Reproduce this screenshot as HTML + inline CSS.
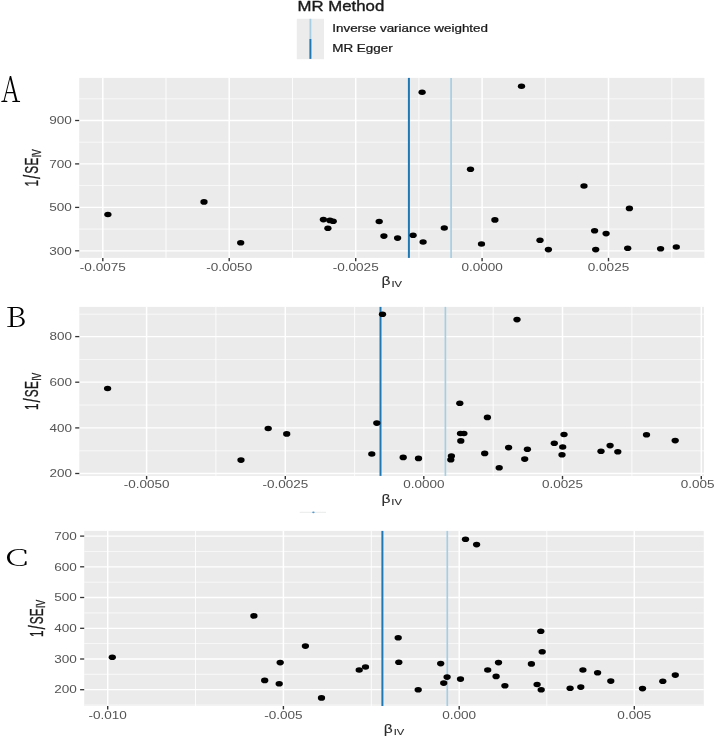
<!DOCTYPE html>
<html lang="en"><head><meta charset="utf-8"><title>MR funnel plots</title>
<style>html,body{margin:0;padding:0;background:#fff}body{width:714px;height:736px;overflow:hidden}svg{display:block}</style></head>
<body>
<svg width="714" height="736" viewBox="0 0 714 736" font-family="'Liberation Sans', Arial, sans-serif">
<rect width="714" height="736" fill="#fff"/>
<text transform="translate(297.60,10.60) scale(1.22,1)" font-size="13.75" text-anchor="start" fill="#1a1a1a" stroke="#1a1a1a" stroke-width="0.35">MR Method</text>
<rect x="296.8" y="18.8" width="27.2" height="40.4" fill="#ececec"/>
<line x1="310.4" x2="310.4" y1="18.8" y2="39" stroke="#a6cee3" stroke-width="1.8"/>
<line x1="310.4" x2="310.4" y1="39" y2="58.9" stroke="#1f78b4" stroke-width="2"/>
<text transform="translate(332.30,32.40) scale(1.22,1)" font-size="11" text-anchor="start" fill="#1a1a1a" stroke="#1a1a1a" stroke-width="0.25">Inverse variance weighted</text>
<text transform="translate(332.30,52.20) scale(1.22,1)" font-size="11" text-anchor="start" fill="#1a1a1a" stroke="#1a1a1a" stroke-width="0.25">MR Egger</text>
<rect x="79.2" y="77.9" width="625.20" height="180.00" fill="#ebebeb"/>
<line x1="166.0" x2="166.0" y1="77.9" y2="257.9" stroke="#fff" stroke-width="0.95" opacity="0.9"/>
<line x1="292.5" x2="292.5" y1="77.9" y2="257.9" stroke="#fff" stroke-width="0.95" opacity="0.9"/>
<line x1="418.9" x2="418.9" y1="77.9" y2="257.9" stroke="#fff" stroke-width="0.95" opacity="0.9"/>
<line x1="545.3" x2="545.3" y1="77.9" y2="257.9" stroke="#fff" stroke-width="0.95" opacity="0.9"/>
<line x1="671.8" x2="671.8" y1="77.9" y2="257.9" stroke="#fff" stroke-width="0.95" opacity="0.9"/>
<line x1="79.2" x2="704.4" y1="98.8" y2="98.8" stroke="#fff" stroke-width="0.75" opacity="0.9"/>
<line x1="79.2" x2="704.4" y1="142.2" y2="142.2" stroke="#fff" stroke-width="0.75" opacity="0.9"/>
<line x1="79.2" x2="704.4" y1="185.6" y2="185.6" stroke="#fff" stroke-width="0.75" opacity="0.9"/>
<line x1="79.2" x2="704.4" y1="229.1" y2="229.1" stroke="#fff" stroke-width="0.75" opacity="0.9"/>
<line x1="102.8" x2="102.8" y1="77.9" y2="257.9" stroke="#fff" stroke-width="1.5"/>
<line x1="229.2" x2="229.2" y1="77.9" y2="257.9" stroke="#fff" stroke-width="1.5"/>
<line x1="355.7" x2="355.7" y1="77.9" y2="257.9" stroke="#fff" stroke-width="1.5"/>
<line x1="482.1" x2="482.1" y1="77.9" y2="257.9" stroke="#fff" stroke-width="1.5"/>
<line x1="608.5" x2="608.5" y1="77.9" y2="257.9" stroke="#fff" stroke-width="1.5"/>
<line x1="79.2" x2="704.4" y1="120.5" y2="120.5" stroke="#fff" stroke-width="1.3"/>
<line x1="79.2" x2="704.4" y1="163.9" y2="163.9" stroke="#fff" stroke-width="1.3"/>
<line x1="79.2" x2="704.4" y1="207.4" y2="207.4" stroke="#fff" stroke-width="1.3"/>
<line x1="79.2" x2="704.4" y1="250.8" y2="250.8" stroke="#fff" stroke-width="1.3"/>
<line x1="451.1" x2="451.1" y1="77.9" y2="257.9" stroke="#a6cee3" stroke-width="1.7"/>
<line x1="408.9" x2="408.9" y1="77.9" y2="257.9" stroke="#1f78b4" stroke-width="2"/>
<ellipse cx="107.9" cy="214.5" rx="3.65" ry="2.8" fill="#000"/>
<ellipse cx="204" cy="201.9" rx="3.65" ry="2.8" fill="#000"/>
<ellipse cx="240.7" cy="242.8" rx="3.65" ry="2.8" fill="#000"/>
<ellipse cx="323.4" cy="219.6" rx="3.65" ry="2.8" fill="#000"/>
<ellipse cx="329.9" cy="220.4" rx="3.65" ry="2.8" fill="#000"/>
<ellipse cx="333.2" cy="221.3" rx="3.65" ry="2.8" fill="#000"/>
<ellipse cx="327.9" cy="228.3" rx="3.65" ry="2.8" fill="#000"/>
<ellipse cx="379.2" cy="221.5" rx="3.65" ry="2.8" fill="#000"/>
<ellipse cx="383.9" cy="236.1" rx="3.65" ry="2.8" fill="#000"/>
<ellipse cx="397.6" cy="238.1" rx="3.65" ry="2.8" fill="#000"/>
<ellipse cx="413.1" cy="235.3" rx="3.65" ry="2.8" fill="#000"/>
<ellipse cx="423.1" cy="242" rx="3.65" ry="2.8" fill="#000"/>
<ellipse cx="422.1" cy="92.2" rx="3.65" ry="2.8" fill="#000"/>
<ellipse cx="444.3" cy="228" rx="3.65" ry="2.8" fill="#000"/>
<ellipse cx="470.5" cy="169.2" rx="3.65" ry="2.8" fill="#000"/>
<ellipse cx="481.5" cy="244" rx="3.65" ry="2.8" fill="#000"/>
<ellipse cx="494.9" cy="219.9" rx="3.65" ry="2.8" fill="#000"/>
<ellipse cx="521.5" cy="86.2" rx="3.65" ry="2.8" fill="#000"/>
<ellipse cx="540" cy="240.3" rx="3.65" ry="2.8" fill="#000"/>
<ellipse cx="548.4" cy="249.6" rx="3.65" ry="2.8" fill="#000"/>
<ellipse cx="584" cy="186" rx="3.65" ry="2.8" fill="#000"/>
<ellipse cx="594.6" cy="230.8" rx="3.65" ry="2.8" fill="#000"/>
<ellipse cx="606.1" cy="233.6" rx="3.65" ry="2.8" fill="#000"/>
<ellipse cx="595.7" cy="249.6" rx="3.65" ry="2.8" fill="#000"/>
<ellipse cx="629.4" cy="208.4" rx="3.65" ry="2.8" fill="#000"/>
<ellipse cx="627.7" cy="248.2" rx="3.65" ry="2.8" fill="#000"/>
<ellipse cx="660.6" cy="248.8" rx="3.65" ry="2.8" fill="#000"/>
<ellipse cx="676.3" cy="247" rx="3.65" ry="2.8" fill="#000"/>
<line x1="102.8" x2="102.8" y1="257.9" y2="261.30" stroke="#333" stroke-width="1.4"/>
<text transform="translate(102.80,270.90) scale(1.19,1)" font-size="11.4" text-anchor="middle" fill="#555">-0.0075</text>
<line x1="229.2" x2="229.2" y1="257.9" y2="261.30" stroke="#333" stroke-width="1.4"/>
<text transform="translate(229.20,270.90) scale(1.19,1)" font-size="11.4" text-anchor="middle" fill="#555">-0.0050</text>
<line x1="355.7" x2="355.7" y1="257.9" y2="261.30" stroke="#333" stroke-width="1.4"/>
<text transform="translate(355.70,270.90) scale(1.19,1)" font-size="11.4" text-anchor="middle" fill="#555">-0.0025</text>
<line x1="482.1" x2="482.1" y1="257.9" y2="261.30" stroke="#333" stroke-width="1.4"/>
<text transform="translate(482.10,270.90) scale(1.19,1)" font-size="11.4" text-anchor="middle" fill="#555">0.0000</text>
<line x1="608.5" x2="608.5" y1="257.9" y2="261.30" stroke="#333" stroke-width="1.4"/>
<text transform="translate(608.50,270.90) scale(1.19,1)" font-size="11.4" text-anchor="middle" fill="#555">0.0025</text>
<line x1="75.10" x2="79.2" y1="120.5" y2="120.5" stroke="#333" stroke-width="1.3"/>
<text transform="translate(71.90,124.25) scale(1.19,1)" font-size="11.4" text-anchor="end" fill="#555">900</text>
<line x1="75.10" x2="79.2" y1="163.9" y2="163.9" stroke="#333" stroke-width="1.3"/>
<text transform="translate(71.90,167.65) scale(1.19,1)" font-size="11.4" text-anchor="end" fill="#555">700</text>
<line x1="75.10" x2="79.2" y1="207.4" y2="207.4" stroke="#333" stroke-width="1.3"/>
<text transform="translate(71.90,211.15) scale(1.19,1)" font-size="11.4" text-anchor="end" fill="#555">500</text>
<line x1="75.10" x2="79.2" y1="250.8" y2="250.8" stroke="#333" stroke-width="1.3"/>
<text transform="translate(71.90,254.55) scale(1.19,1)" font-size="11.4" text-anchor="end" fill="#555">300</text>
<text transform="translate(38.4,167.90) scale(1.56,1) rotate(-90)" font-size="11.8" text-anchor="middle" fill="#1a1a1a" stroke="#1a1a1a" stroke-width="0.22">1<tspan font-size="15.2" dy="1.2" dx="1.0">/</tspan><tspan dy="-1.2" dx="1.0">S</tspan><tspan dx="0.3">E</tspan><tspan font-size="8.6" dy="1.5" dx="0.4">IV</tspan></text>
<text transform="translate(391.80,285.40) scale(1.22,1)" font-size="12.8" text-anchor="middle" fill="#2a2a2a" stroke="#2a2a2a" stroke-width="0.1">β<tspan font-size="9.2" dx="0.8" dy="2.0">IV</tspan></text>
<rect x="79.3" y="306.9" width="624.70" height="169.00" fill="#ebebeb"/>
<line x1="215.9" x2="215.9" y1="306.9" y2="475.9" stroke="#fff" stroke-width="0.95" opacity="0.9"/>
<line x1="354.6" x2="354.6" y1="306.9" y2="475.9" stroke="#fff" stroke-width="0.95" opacity="0.9"/>
<line x1="493.2" x2="493.2" y1="306.9" y2="475.9" stroke="#fff" stroke-width="0.95" opacity="0.9"/>
<line x1="631.9" x2="631.9" y1="306.9" y2="475.9" stroke="#fff" stroke-width="0.95" opacity="0.9"/>
<line x1="79.3" x2="704.0" y1="314.2" y2="314.2" stroke="#fff" stroke-width="0.75" opacity="0.9"/>
<line x1="79.3" x2="704.0" y1="359.4" y2="359.4" stroke="#fff" stroke-width="0.75" opacity="0.9"/>
<line x1="79.3" x2="704.0" y1="405.0" y2="405.0" stroke="#fff" stroke-width="0.75" opacity="0.9"/>
<line x1="79.3" x2="704.0" y1="450.8" y2="450.8" stroke="#fff" stroke-width="0.75" opacity="0.9"/>
<line x1="146.6" x2="146.6" y1="306.9" y2="475.9" stroke="#fff" stroke-width="1.5"/>
<line x1="285.3" x2="285.3" y1="306.9" y2="475.9" stroke="#fff" stroke-width="1.5"/>
<line x1="423.8" x2="423.8" y1="306.9" y2="475.9" stroke="#fff" stroke-width="1.5"/>
<line x1="562.5" x2="562.5" y1="306.9" y2="475.9" stroke="#fff" stroke-width="1.5"/>
<line x1="701.3" x2="701.3" y1="306.9" y2="475.9" stroke="#fff" stroke-width="1.5"/>
<line x1="79.3" x2="704.0" y1="336.6" y2="336.6" stroke="#fff" stroke-width="1.3"/>
<line x1="79.3" x2="704.0" y1="382.2" y2="382.2" stroke="#fff" stroke-width="1.3"/>
<line x1="79.3" x2="704.0" y1="427.9" y2="427.9" stroke="#fff" stroke-width="1.3"/>
<line x1="79.3" x2="704.0" y1="473.5" y2="473.5" stroke="#fff" stroke-width="1.3"/>
<line x1="445.4" x2="445.4" y1="306.9" y2="475.9" stroke="#a6cee3" stroke-width="1.7"/>
<line x1="380.5" x2="380.5" y1="306.9" y2="475.9" stroke="#1f78b4" stroke-width="2"/>
<ellipse cx="107.6" cy="388.5" rx="3.65" ry="2.8" fill="#000"/>
<ellipse cx="241" cy="460.1" rx="3.65" ry="2.8" fill="#000"/>
<ellipse cx="268.2" cy="428.5" rx="3.65" ry="2.8" fill="#000"/>
<ellipse cx="286.7" cy="433.9" rx="3.65" ry="2.8" fill="#000"/>
<ellipse cx="371.8" cy="454" rx="3.65" ry="2.8" fill="#000"/>
<ellipse cx="376.8" cy="423.1" rx="3.65" ry="2.8" fill="#000"/>
<ellipse cx="382.5" cy="314.2" rx="3.65" ry="2.8" fill="#000"/>
<ellipse cx="403.2" cy="457.4" rx="3.65" ry="2.8" fill="#000"/>
<ellipse cx="418.5" cy="458.4" rx="3.65" ry="2.8" fill="#000"/>
<ellipse cx="450.8" cy="459.7" rx="3.65" ry="2.8" fill="#000"/>
<ellipse cx="451.4" cy="456.1" rx="3.65" ry="2.8" fill="#000"/>
<ellipse cx="459.8" cy="403.3" rx="3.65" ry="2.8" fill="#000"/>
<ellipse cx="460.5" cy="433.5" rx="3.65" ry="2.8" fill="#000"/>
<ellipse cx="463.9" cy="433.5" rx="3.65" ry="2.8" fill="#000"/>
<ellipse cx="460.8" cy="440.9" rx="3.65" ry="2.8" fill="#000"/>
<ellipse cx="487.4" cy="417.4" rx="3.65" ry="2.8" fill="#000"/>
<ellipse cx="484.7" cy="453.4" rx="3.65" ry="2.8" fill="#000"/>
<ellipse cx="499.2" cy="467.8" rx="3.65" ry="2.8" fill="#000"/>
<ellipse cx="508.6" cy="447.6" rx="3.65" ry="2.8" fill="#000"/>
<ellipse cx="517" cy="319.6" rx="3.65" ry="2.8" fill="#000"/>
<ellipse cx="524.7" cy="459.1" rx="3.65" ry="2.8" fill="#000"/>
<ellipse cx="527.4" cy="449.3" rx="3.65" ry="2.8" fill="#000"/>
<ellipse cx="554.3" cy="443.3" rx="3.65" ry="2.8" fill="#000"/>
<ellipse cx="564" cy="434.5" rx="3.65" ry="2.8" fill="#000"/>
<ellipse cx="562.7" cy="447" rx="3.65" ry="2.8" fill="#000"/>
<ellipse cx="562" cy="454.7" rx="3.65" ry="2.8" fill="#000"/>
<ellipse cx="601" cy="451.3" rx="3.65" ry="2.8" fill="#000"/>
<ellipse cx="610.1" cy="445.6" rx="3.65" ry="2.8" fill="#000"/>
<ellipse cx="617.8" cy="451.7" rx="3.65" ry="2.8" fill="#000"/>
<ellipse cx="646.5" cy="434.8" rx="3.65" ry="2.8" fill="#000"/>
<ellipse cx="675.2" cy="440.6" rx="3.65" ry="2.8" fill="#000"/>
<line x1="146.6" x2="146.6" y1="475.9" y2="479.30" stroke="#333" stroke-width="1.4"/>
<text transform="translate(146.60,488.30) scale(1.27,1)" font-size="10.6" text-anchor="middle" fill="#555">-0.0050</text>
<line x1="285.3" x2="285.3" y1="475.9" y2="479.30" stroke="#333" stroke-width="1.4"/>
<text transform="translate(285.30,488.30) scale(1.27,1)" font-size="10.6" text-anchor="middle" fill="#555">-0.0025</text>
<line x1="423.8" x2="423.8" y1="475.9" y2="479.30" stroke="#333" stroke-width="1.4"/>
<text transform="translate(423.80,488.30) scale(1.27,1)" font-size="10.6" text-anchor="middle" fill="#555">0.0000</text>
<line x1="562.5" x2="562.5" y1="475.9" y2="479.30" stroke="#333" stroke-width="1.4"/>
<text transform="translate(562.50,488.30) scale(1.27,1)" font-size="10.6" text-anchor="middle" fill="#555">0.0025</text>
<line x1="701.3" x2="701.3" y1="475.9" y2="479.30" stroke="#333" stroke-width="1.4"/>
<text transform="translate(701.30,488.30) scale(1.27,1)" font-size="10.6" text-anchor="middle" fill="#555">0.0050</text>
<line x1="75.20" x2="79.3" y1="336.6" y2="336.6" stroke="#333" stroke-width="1.3"/>
<text transform="translate(72.00,340.30) scale(1.27,1)" font-size="10.6" text-anchor="end" fill="#555">800</text>
<line x1="75.20" x2="79.3" y1="382.2" y2="382.2" stroke="#333" stroke-width="1.3"/>
<text transform="translate(72.00,385.90) scale(1.27,1)" font-size="10.6" text-anchor="end" fill="#555">600</text>
<line x1="75.20" x2="79.3" y1="427.9" y2="427.9" stroke="#333" stroke-width="1.3"/>
<text transform="translate(72.00,431.60) scale(1.27,1)" font-size="10.6" text-anchor="end" fill="#555">400</text>
<line x1="75.20" x2="79.3" y1="473.5" y2="473.5" stroke="#333" stroke-width="1.3"/>
<text transform="translate(72.00,477.20) scale(1.27,1)" font-size="10.6" text-anchor="end" fill="#555">200</text>
<text transform="translate(38.4,391.40) scale(1.56,1) rotate(-90)" font-size="11.8" text-anchor="middle" fill="#1a1a1a" stroke="#1a1a1a" stroke-width="0.22">1<tspan font-size="15.2" dy="1.2" dx="1.0">/</tspan><tspan dy="-1.2" dx="1.0">S</tspan><tspan dx="0.3">E</tspan><tspan font-size="8.6" dy="1.5" dx="0.4">IV</tspan></text>
<text transform="translate(391.65,503.40) scale(1.22,1)" font-size="12.8" text-anchor="middle" fill="#2a2a2a" stroke="#2a2a2a" stroke-width="0.1">β<tspan font-size="9.2" dx="0.8" dy="2.0">IV</tspan></text>
<rect x="84.2" y="530.9" width="619.60" height="175.10" fill="#ebebeb"/>
<line x1="195.5" x2="195.5" y1="530.9" y2="706.0" stroke="#fff" stroke-width="0.95" opacity="0.9"/>
<line x1="371.3" x2="371.3" y1="530.9" y2="706.0" stroke="#fff" stroke-width="0.95" opacity="0.9"/>
<line x1="546.8" x2="546.8" y1="530.9" y2="706.0" stroke="#fff" stroke-width="0.95" opacity="0.9"/>
<line x1="84.2" x2="703.8" y1="551.4" y2="551.4" stroke="#fff" stroke-width="0.75" opacity="0.9"/>
<line x1="84.2" x2="703.8" y1="582.2" y2="582.2" stroke="#fff" stroke-width="0.75" opacity="0.9"/>
<line x1="84.2" x2="703.8" y1="612.9" y2="612.9" stroke="#fff" stroke-width="0.75" opacity="0.9"/>
<line x1="84.2" x2="703.8" y1="643.6" y2="643.6" stroke="#fff" stroke-width="0.75" opacity="0.9"/>
<line x1="84.2" x2="703.8" y1="674.3" y2="674.3" stroke="#fff" stroke-width="0.75" opacity="0.9"/>
<line x1="84.2" x2="703.8" y1="705.1" y2="705.1" stroke="#fff" stroke-width="0.75" opacity="0.9"/>
<line x1="107.7" x2="107.7" y1="530.9" y2="706.0" stroke="#fff" stroke-width="1.5"/>
<line x1="283.4" x2="283.4" y1="530.9" y2="706.0" stroke="#fff" stroke-width="1.5"/>
<line x1="459.2" x2="459.2" y1="530.9" y2="706.0" stroke="#fff" stroke-width="1.5"/>
<line x1="634.3" x2="634.3" y1="530.9" y2="706.0" stroke="#fff" stroke-width="1.5"/>
<line x1="84.2" x2="703.8" y1="536.1" y2="536.1" stroke="#fff" stroke-width="1.3"/>
<line x1="84.2" x2="703.8" y1="566.8" y2="566.8" stroke="#fff" stroke-width="1.3"/>
<line x1="84.2" x2="703.8" y1="597.5" y2="597.5" stroke="#fff" stroke-width="1.3"/>
<line x1="84.2" x2="703.8" y1="628.3" y2="628.3" stroke="#fff" stroke-width="1.3"/>
<line x1="84.2" x2="703.8" y1="659.0" y2="659.0" stroke="#fff" stroke-width="1.3"/>
<line x1="84.2" x2="703.8" y1="689.7" y2="689.7" stroke="#fff" stroke-width="1.3"/>
<line x1="447.3" x2="447.3" y1="530.9" y2="706.0" stroke="#a6cee3" stroke-width="1.7"/>
<line x1="382.4" x2="382.4" y1="530.9" y2="706.0" stroke="#1f78b4" stroke-width="2"/>
<ellipse cx="112.3" cy="657.2" rx="3.65" ry="2.8" fill="#000"/>
<ellipse cx="253.9" cy="615.9" rx="3.65" ry="2.8" fill="#000"/>
<ellipse cx="264.7" cy="680.4" rx="3.65" ry="2.8" fill="#000"/>
<ellipse cx="279.2" cy="683.8" rx="3.65" ry="2.8" fill="#000"/>
<ellipse cx="280.2" cy="662.6" rx="3.65" ry="2.8" fill="#000"/>
<ellipse cx="305.4" cy="646.1" rx="3.65" ry="2.8" fill="#000"/>
<ellipse cx="321.5" cy="697.9" rx="3.65" ry="2.8" fill="#000"/>
<ellipse cx="359.2" cy="670" rx="3.65" ry="2.8" fill="#000"/>
<ellipse cx="365.5" cy="667" rx="3.65" ry="2.8" fill="#000"/>
<ellipse cx="398.2" cy="637.7" rx="3.65" ry="2.8" fill="#000"/>
<ellipse cx="398.8" cy="662.3" rx="3.65" ry="2.8" fill="#000"/>
<ellipse cx="418.2" cy="689.8" rx="3.65" ry="2.8" fill="#000"/>
<ellipse cx="440.7" cy="663.6" rx="3.65" ry="2.8" fill="#000"/>
<ellipse cx="443.7" cy="683.1" rx="3.65" ry="2.8" fill="#000"/>
<ellipse cx="447.1" cy="677.1" rx="3.65" ry="2.8" fill="#000"/>
<ellipse cx="460.5" cy="679.1" rx="3.65" ry="2.8" fill="#000"/>
<ellipse cx="465.5" cy="539.2" rx="3.65" ry="2.8" fill="#000"/>
<ellipse cx="476.6" cy="544.6" rx="3.65" ry="2.8" fill="#000"/>
<ellipse cx="487.7" cy="670" rx="3.65" ry="2.8" fill="#000"/>
<ellipse cx="496.1" cy="676.4" rx="3.65" ry="2.8" fill="#000"/>
<ellipse cx="498.5" cy="662.6" rx="3.65" ry="2.8" fill="#000"/>
<ellipse cx="504.9" cy="685.8" rx="3.65" ry="2.8" fill="#000"/>
<ellipse cx="531.4" cy="663.9" rx="3.65" ry="2.8" fill="#000"/>
<ellipse cx="537.1" cy="684.5" rx="3.65" ry="2.8" fill="#000"/>
<ellipse cx="540.8" cy="631.3" rx="3.65" ry="2.8" fill="#000"/>
<ellipse cx="542.2" cy="651.8" rx="3.65" ry="2.8" fill="#000"/>
<ellipse cx="541.2" cy="689.8" rx="3.65" ry="2.8" fill="#000"/>
<ellipse cx="570.1" cy="688.2" rx="3.65" ry="2.8" fill="#000"/>
<ellipse cx="580.8" cy="687.1" rx="3.65" ry="2.8" fill="#000"/>
<ellipse cx="582.9" cy="670" rx="3.65" ry="2.8" fill="#000"/>
<ellipse cx="597.6" cy="672.7" rx="3.65" ry="2.8" fill="#000"/>
<ellipse cx="610.8" cy="681.1" rx="3.65" ry="2.8" fill="#000"/>
<ellipse cx="642.5" cy="688.6" rx="3.65" ry="2.8" fill="#000"/>
<ellipse cx="662.8" cy="681.3" rx="3.65" ry="2.8" fill="#000"/>
<ellipse cx="675.3" cy="675.1" rx="3.65" ry="2.8" fill="#000"/>
<line x1="107.7" x2="107.7" y1="706.0" y2="709.40" stroke="#333" stroke-width="1.4"/>
<text transform="translate(107.70,719.10) scale(1.19,1)" font-size="11.4" text-anchor="middle" fill="#555">-0.010</text>
<line x1="283.4" x2="283.4" y1="706.0" y2="709.40" stroke="#333" stroke-width="1.4"/>
<text transform="translate(283.40,719.10) scale(1.19,1)" font-size="11.4" text-anchor="middle" fill="#555">-0.005</text>
<line x1="459.2" x2="459.2" y1="706.0" y2="709.40" stroke="#333" stroke-width="1.4"/>
<text transform="translate(459.20,719.10) scale(1.19,1)" font-size="11.4" text-anchor="middle" fill="#555">0.000</text>
<line x1="634.3" x2="634.3" y1="706.0" y2="709.40" stroke="#333" stroke-width="1.4"/>
<text transform="translate(634.30,719.10) scale(1.19,1)" font-size="11.4" text-anchor="middle" fill="#555">0.005</text>
<line x1="80.10" x2="84.2" y1="536.1" y2="536.1" stroke="#333" stroke-width="1.3"/>
<text transform="translate(76.90,539.85) scale(1.19,1)" font-size="11.4" text-anchor="end" fill="#555">700</text>
<line x1="80.10" x2="84.2" y1="566.8" y2="566.8" stroke="#333" stroke-width="1.3"/>
<text transform="translate(76.90,570.55) scale(1.19,1)" font-size="11.4" text-anchor="end" fill="#555">600</text>
<line x1="80.10" x2="84.2" y1="597.5" y2="597.5" stroke="#333" stroke-width="1.3"/>
<text transform="translate(76.90,601.25) scale(1.19,1)" font-size="11.4" text-anchor="end" fill="#555">500</text>
<line x1="80.10" x2="84.2" y1="628.3" y2="628.3" stroke="#333" stroke-width="1.3"/>
<text transform="translate(76.90,632.05) scale(1.19,1)" font-size="11.4" text-anchor="end" fill="#555">400</text>
<line x1="80.10" x2="84.2" y1="659.0" y2="659.0" stroke="#333" stroke-width="1.3"/>
<text transform="translate(76.90,662.75) scale(1.19,1)" font-size="11.4" text-anchor="end" fill="#555">300</text>
<line x1="80.10" x2="84.2" y1="689.7" y2="689.7" stroke="#333" stroke-width="1.3"/>
<text transform="translate(76.90,693.45) scale(1.19,1)" font-size="11.4" text-anchor="end" fill="#555">200</text>
<text transform="translate(43.0,618.45) scale(1.56,1) rotate(-90)" font-size="11.8" text-anchor="middle" fill="#1a1a1a" stroke="#1a1a1a" stroke-width="0.22">1<tspan font-size="15.2" dy="1.2" dx="1.0">/</tspan><tspan dy="-1.2" dx="1.0">S</tspan><tspan dx="0.3">E</tspan><tspan font-size="8.6" dy="1.5" dx="0.4">IV</tspan></text>
<text transform="translate(394.00,733.30) scale(1.22,1)" font-size="12.8" text-anchor="middle" fill="#2a2a2a" stroke="#2a2a2a" stroke-width="0.1">β<tspan font-size="9.2" dx="0.8" dy="2.0">IV</tspan></text>
<line x1="299.7" x2="326" y1="512.3" y2="512.3" stroke="#e9ebec" stroke-width="1"/>
<ellipse cx="313.4" cy="512.3" rx="1.2" ry="0.9" fill="#5b9bc9"/>
<text transform="translate(1.0,101.6) scale(0.75,1)" font-family="'Noto Serif CJK SC', 'Liberation Serif', serif" font-weight="300" font-size="36" fill="#000">A</text>
<text transform="translate(5.6,327) scale(1.124,1)" font-family="'Noto Serif CJK SC', 'Liberation Serif', serif" font-weight="300" font-size="27.9" fill="#000">B</text>
<text transform="translate(4.9,566.4) scale(1.5,1)" font-family="'Noto Serif CJK SC', 'Liberation Serif', serif" font-weight="300" font-size="22.7" fill="#000">C</text>
</svg>
</body></html>
